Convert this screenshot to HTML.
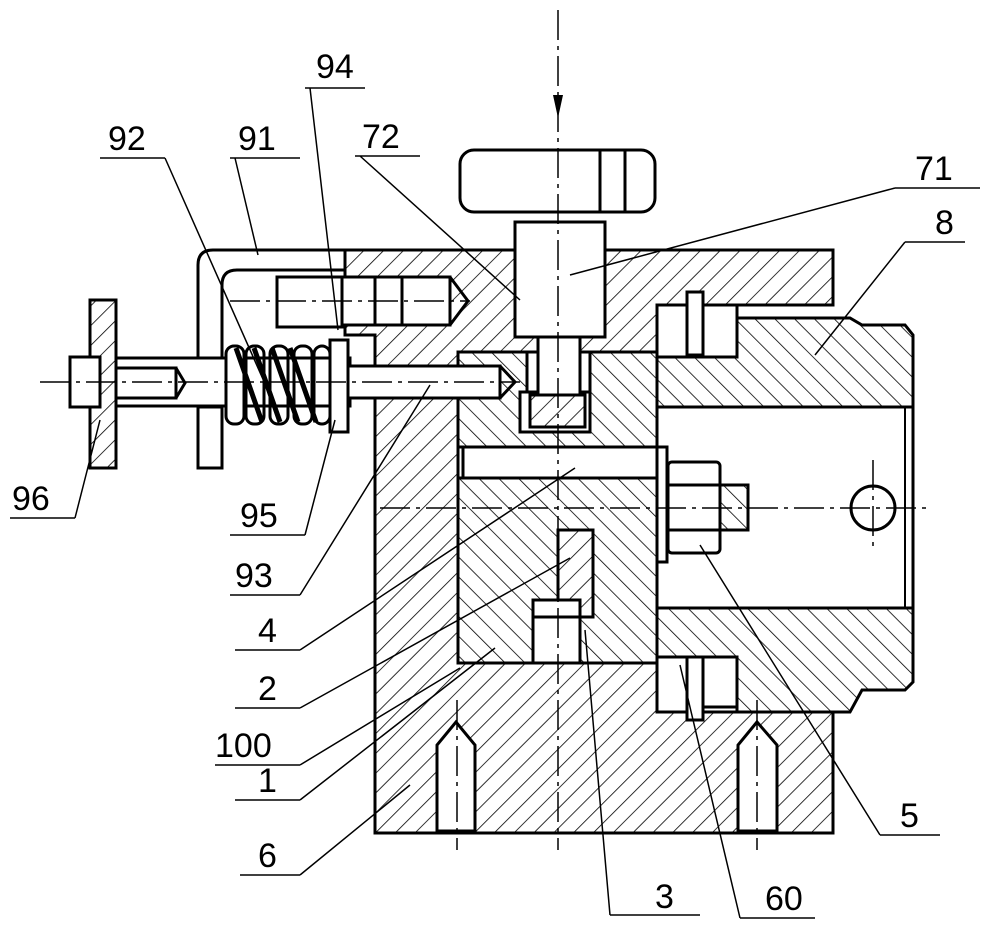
<!DOCTYPE html>
<html><head><meta charset="utf-8"><style>
html,body{margin:0;padding:0;background:#fff}
svg{display:block}
text{font-family:"Liberation Sans",sans-serif;font-size:34px;fill:#000}
</style></head><body>
<svg width="1000" height="932" viewBox="0 0 1000 932" xmlns="http://www.w3.org/2000/svg">
<defs>
<pattern id="h" patternUnits="userSpaceOnUse" width="14" height="14" patternTransform="rotate(45)">
<rect width="14" height="14" fill="#fff"/><line x1="0" y1="0" x2="0" y2="14" stroke="#000" stroke-width="1.6"/>
</pattern>
<pattern id="h2" patternUnits="userSpaceOnUse" width="14" height="14" patternTransform="rotate(-45)">
<rect width="14" height="14" fill="#fff"/><line x1="0" y1="0" x2="0" y2="14" stroke="#000" stroke-width="1.6"/>
</pattern>
</defs>
<g stroke="#000" stroke-width="3" fill="none">
<!-- main body -->
<path d="M375,335 L375,833 L833,833 L833,712 L657,712 L657,663 L458,663 L458,352 L657,352 L657,305 L833,305 L833,250 L345,250 L345,335 Z" fill="url(#h)"/>
<!-- upper cavity block -->
<rect x="458" y="352" width="199" height="95" fill="url(#h2)"/>
<rect x="527" y="352" width="63" height="60" fill="#fff"/>
<rect x="520" y="392" width="70" height="40" fill="#fff"/>
<rect x="530" y="395" width="55" height="32" fill="url(#h)"/>
<!-- pin 4 -->
<rect x="463" y="447" width="200" height="31" fill="#fff"/>
<!-- lower cavity block -->
<rect x="458" y="478" width="199" height="185" fill="url(#h2)"/>
<rect x="558" y="530" width="35" height="87" fill="url(#h)"/>
<rect x="533" y="600" width="47" height="63" fill="#fff"/>
<line x1="533" y1="617" x2="580" y2="617"/>
<!-- part 8 -->
<path d="M657,357 L737,357 L737,318 L850,318 L862,325 L905,325 L913,335 L913,407 L657,407 Z" fill="url(#h2)"/>
<path d="M657,608 L913,608 L913,682 L905,690 L862,690 L850,712 L737,712 L737,657 L657,657 Z" fill="url(#h2)"/>
<rect x="657" y="407" width="256" height="201" fill="#fff"/>
<line x1="905" y1="407" x2="905" y2="608" stroke-width="2"/>
<circle cx="873" cy="508" r="22"/>
<!-- pins in body -->
<rect x="703" y="305" width="34" height="52" fill="#fff"/>
<rect x="687" y="292" width="16" height="63" fill="#fff"/>
<rect x="703" y="657" width="34" height="50" fill="#fff"/>
<rect x="687" y="657" width="16" height="63" fill="#fff"/>
<!-- washer + bolt 5 -->
<rect x="657" y="447" width="10" height="115" fill="#fff"/>
<rect x="668" y="462" width="52" height="91" rx="4" fill="#fff"/>
<line x1="668" y1="485" x2="720" y2="485"/><line x1="668" y1="530" x2="720" y2="530"/>
<rect x="720" y="485" width="28" height="45" fill="url(#h2)"/>
<!-- knob -->
<rect x="460" y="150" width="195" height="62" rx="14" fill="#fff"/>
<line x1="600" y1="150" x2="600" y2="212"/><line x1="625" y1="150" x2="625" y2="212"/>
<rect x="515" y="222" width="90" height="115" fill="#fff"/>
<rect x="538" y="337" width="42" height="58" fill="#fff"/>
<!-- bracket 91 -->
<path d="M345,250 L213,250 Q198,250 198,265 L198,358 M222,358 L222,285 Q222,270 237,270 L345,270"/>
<rect x="198" y="407" width="24" height="61" fill="#fff"/>
<!-- bolt 94 -->
<rect x="277" y="277" width="65" height="50" fill="#fff"/>
<rect x="342" y="277" width="108" height="48" fill="#fff"/>
<line x1="375" y1="277" x2="375" y2="325"/><line x1="402" y1="277" x2="402" y2="325"/>
<path d="M450,277 L468,301 L450,325"/>
<!-- rod -->
<rect x="70" y="358" width="280" height="48" fill="#fff"/>
<rect x="348" y="366" width="152" height="32" fill="#fff"/>
<path d="M500,366 L515,382 L500,398"/>
<rect x="90" y="300" width="26" height="168" fill="url(#h)"/>
<rect x="70" y="357" width="30" height="50" fill="#fff"/>
<rect x="116" y="368" width="60" height="30" fill="#fff"/>
<path d="M176,368 L185,383 L176,398"/>
<!-- spring coils -->
<g stroke-width="3">
<rect x="226" y="346" width="18" height="78" rx="8" fill="#fff"/>
<path d="M236,348 L262,422 M254,348 L280,422 M272,348 L298,422 M290,348 L316,422" stroke-width="5"/>
<rect x="246" y="346" width="18" height="78" rx="8"/>
<rect x="270" y="346" width="18" height="78" rx="8"/>
<rect x="294" y="346" width="18" height="78" rx="8"/>
<rect x="314" y="346" width="16" height="78" rx="8"/>
</g>
<rect x="330" y="340" width="18" height="92" fill="#fff"/>
</g>
<!-- holes bottom -->
<g fill="#fff" stroke="#000" stroke-width="3">
<path d="M437,831 L437,745 L456,722 L475,745 L475,831 Z"/>
<path d="M738,831 L738,745 L757,722 L777,745 L777,831 Z"/>
</g>
<!-- center lines -->
<g stroke="#000" stroke-width="1.5" stroke-dasharray="30,6,4,6">
<line x1="558" y1="10" x2="558" y2="850"/>
<line x1="457" y1="700" x2="457" y2="850"/>
<line x1="757" y1="700" x2="757" y2="850"/>
<line x1="380" y1="508" x2="930" y2="508"/>
<line x1="873" y1="460" x2="873" y2="550"/>
<line x1="40" y1="382" x2="520" y2="382"/>
<line x1="230" y1="301" x2="470" y2="301"/>
</g>
<path d="M553,95 L558,118 L563,95 Z" fill="#000"/>
<!-- labels -->
<g stroke="#000" stroke-width="1.5" fill="none">
<path d="M305,88 L365,88 M310,88 L338,330"/>
<path d="M100,158 L165,158 M165,158 L270,395"/>
<path d="M230,158 L300,158 M235,158 L258,255"/>
<path d="M355,156 L420,156 M360,156 L520,300"/>
<path d="M895,188 L980,188 M895,188 L570,275"/>
<path d="M905,242 L965,242 M905,242 L815,355"/>
<path d="M10,518 L75,518 M75,518 L100,420"/>
<path d="M230,535 L305,535 M305,535 L335,420"/>
<path d="M230,595 L300,595 M300,595 L430,385"/>
<path d="M235,650 L300,650 M300,650 L575,468"/>
<path d="M235,708 L300,708 M300,708 L570,558"/>
<path d="M215,765 L300,765 M300,765 L460,668"/>
<path d="M235,800 L300,800 M300,800 L495,648"/>
<path d="M240,875 L300,875 M300,875 L410,785"/>
<path d="M610,915 L700,915 M610,915 L585,630"/>
<path d="M740,918 L815,918 M740,918 L680,665"/>
<path d="M880,835 L940,835 M880,835 L700,545"/>
</g>
<text x="316" y="78">94</text>
<text x="108" y="150">92</text>
<text x="238" y="150">91</text>
<text x="362" y="148">72</text>
<text x="915" y="180">71</text>
<text x="935" y="234">8</text>
<text x="12" y="510">96</text>
<text x="240" y="527">95</text>
<text x="235" y="587">93</text>
<text x="258" y="642">4</text>
<text x="258" y="700">2</text>
<text x="215" y="757">100</text>
<text x="258" y="792">1</text>
<text x="258" y="867">6</text>
<text x="655" y="908">3</text>
<text x="765" y="910">60</text>
<text x="900" y="827">5</text>
</svg>
</body></html>
